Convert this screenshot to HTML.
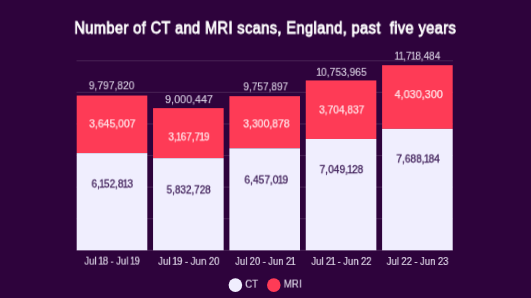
<!DOCTYPE html>
<html><head><meta charset="utf-8"><style>
html,body{margin:0;padding:0}
body{width:531px;height:298px;overflow:hidden;background:#2e033c;position:relative;font-family:"Liberation Sans",sans-serif}
.t{position:absolute;left:0;top:0;line-height:1;white-space:nowrap;transform-origin:0 0}
.t i{font-style:normal;margin:0 -0.9px}
</style></head><body>
<svg width="531" height="298" style="position:absolute;left:0;top:0"><rect x="76.5" y="249.70" width="376.5" height="1.2" fill="#ffffff" fill-opacity="0.11"/><rect x="76.5" y="218.11" width="376.5" height="1.2" fill="#ffffff" fill-opacity="0.11"/><rect x="76.5" y="186.52" width="376.5" height="1.2" fill="#ffffff" fill-opacity="0.11"/><rect x="76.5" y="154.93" width="376.5" height="1.2" fill="#ffffff" fill-opacity="0.11"/><rect x="76.5" y="123.34" width="376.5" height="1.2" fill="#ffffff" fill-opacity="0.11"/><rect x="76.5" y="91.75" width="376.5" height="1.2" fill="#ffffff" fill-opacity="0.11"/><rect x="76.5" y="60.16" width="376.5" height="1.2" fill="#ffffff" fill-opacity="0.11"/><rect x="76.70" y="95.54" width="70.60" height="57.57" fill="#fe3b56"/><rect x="76.70" y="153.12" width="70.60" height="97.18" fill="#f0eefe"/><rect x="153.05" y="108.14" width="70.60" height="50.03" fill="#fe3b56"/><rect x="153.05" y="158.17" width="70.60" height="92.13" fill="#f0eefe"/><rect x="229.40" y="96.17" width="70.60" height="52.14" fill="#fe3b56"/><rect x="229.40" y="148.31" width="70.60" height="101.99" fill="#f0eefe"/><rect x="305.75" y="80.44" width="70.60" height="58.52" fill="#fe3b56"/><rect x="305.75" y="138.96" width="70.60" height="111.34" fill="#f0eefe"/><rect x="382.10" y="65.21" width="70.60" height="63.66" fill="#fe3b56"/><rect x="382.10" y="128.87" width="70.60" height="121.43" fill="#f0eefe"/><circle cx="235.4" cy="285.1" r="6.8" fill="#f0eefe"/><circle cx="273.8" cy="285.1" r="6.8" fill="#fe3b56"/></svg>
<div class="t" style="font-size:15.8px;color:#ffffff;font-weight:normal;transform:translate3d(74.385px,20.459px,0px) scaleX(0.9215);will-change:transform;-webkit-text-stroke:0.8px #ffffff;letter-spacing:0.45px;">Number of CT and MRI scans, England, past&nbsp; five years</div>
<div class="t" style="font-size:11.0px;color:#ddd5e6;font-weight:normal;transform:translate3d(88.803px,80.261px,0px) scaleX(0.9316);will-change:transform;-webkit-text-stroke:0.1px #ddd5e6;letter-spacing:0px;">9,797,820</div>
<div class="t" style="font-size:11.0px;color:#ffe2e7;font-weight:normal;transform:translate3d(89.140px,118.348px,0px) scaleX(0.9471);will-change:transform;-webkit-text-stroke:0.25px #ffe2e7;letter-spacing:0px;">3,645,007</div>
<div class="t" style="font-size:11.0px;color:#40205a;font-weight:normal;transform:translate3d(91.523px,178.439px,0px) scaleX(0.9149);will-change:transform;-webkit-text-stroke:0.3px #40205a;letter-spacing:0px;">6,<i>1</i>52,8<i>1</i>3</div>
<div class="t" style="font-size:11.5px;color:#ddd5e6;font-weight:normal;transform:translate3d(84.344px,255.611px,0px) scaleX(0.8297);will-change:transform;-webkit-text-stroke:0.2px #ddd5e6;letter-spacing:0px;word-spacing:-0.3px;">Jul <i>1</i>8 - Jul <i>1</i>9</div>
<div class="t" style="font-size:11.0px;color:#ddd5e6;font-weight:normal;transform:translate3d(165.081px,94.143px,0px) scaleX(0.9796);will-change:transform;-webkit-text-stroke:0.1px #ddd5e6;letter-spacing:0px;">9,000,447</div>
<div class="t" style="font-size:11.0px;color:#ffe2e7;font-weight:normal;transform:translate3d(168.412px,131.415px,0px) scaleX(0.9067);will-change:transform;-webkit-text-stroke:0.25px #ffe2e7;letter-spacing:0px;">3,<i>1</i>67,7<i>1</i>9</div>
<div class="t" style="font-size:11.0px;color:#40205a;font-weight:normal;transform:translate3d(166.600px,184.432px,0px) scaleX(0.9014);will-change:transform;-webkit-text-stroke:0.3px #40205a;letter-spacing:0px;">5,832,728</div>
<div class="t" style="font-size:11.5px;color:#ddd5e6;font-weight:normal;transform:translate3d(158.090px,255.872px,0px) scaleX(0.8490);will-change:transform;-webkit-text-stroke:0.2px #ddd5e6;letter-spacing:0px;word-spacing:-0.3px;">Jul <i>1</i>9 - Jun 20</div>
<div class="t" style="font-size:11.0px;color:#ddd5e6;font-weight:normal;transform:translate3d(243.386px,81.356px,0px) scaleX(0.9148);will-change:transform;-webkit-text-stroke:0.1px #ddd5e6;letter-spacing:0px;">9,757,897</div>
<div class="t" style="font-size:11.0px;color:#ffe2e7;font-weight:normal;transform:translate3d(243.212px,118.318px,0px) scaleX(0.9483);will-change:transform;-webkit-text-stroke:0.25px #ffe2e7;letter-spacing:0px;">3,300,878</div>
<div class="t" style="font-size:11.0px;color:#40205a;font-weight:normal;transform:translate3d(244.397px,174.449px,0px) scaleX(0.9282);will-change:transform;-webkit-text-stroke:0.3px #40205a;letter-spacing:0px;">6,457,0<i>1</i>9</div>
<div class="t" style="font-size:11.5px;color:#ddd5e6;font-weight:normal;transform:translate3d(235.158px,255.914px,0px) scaleX(0.8261);will-change:transform;-webkit-text-stroke:0.2px #ddd5e6;letter-spacing:0px;word-spacing:-0.3px;">Jul 20 - Jun 2<i>1</i></div>
<div class="t" style="font-size:11.0px;color:#ddd5e6;font-weight:normal;transform:translate3d(317.029px,66.781px,0px) scaleX(0.9311);will-change:transform;-webkit-text-stroke:0.1px #ddd5e6;letter-spacing:0px;"><i>1</i>0,753,965</div>
<div class="t" style="font-size:11.0px;color:#ffe2e7;font-weight:normal;transform:translate3d(319.087px,104.421px,0px) scaleX(0.9240);will-change:transform;-webkit-text-stroke:0.25px #ffe2e7;letter-spacing:0px;">3,704,837</div>
<div class="t" style="font-size:11.0px;color:#40205a;font-weight:normal;transform:translate3d(319.553px,164.144px,0px) scaleX(0.9276);will-change:transform;-webkit-text-stroke:0.3px #40205a;letter-spacing:0px;">7,049,<i>1</i>28</div>
<div class="t" style="font-size:11.5px;color:#ddd5e6;font-weight:normal;transform:translate3d(311.343px,255.920px,0px) scaleX(0.8316);will-change:transform;-webkit-text-stroke:0.2px #ddd5e6;letter-spacing:0px;word-spacing:-0.3px;">Jul 2<i>1</i> - Jun 22</div>
<div class="t" style="font-size:11.0px;color:#ddd5e6;font-weight:normal;transform:translate3d(395.301px,50.644px,0px) scaleX(0.9011);will-change:transform;-webkit-text-stroke:0.1px #ddd5e6;letter-spacing:0px;"><i>1</i><i>1</i>,7<i>1</i>8,484</div>
<div class="t" style="font-size:11.0px;color:#ffe2e7;font-weight:normal;transform:translate3d(394.601px,89.065px,0px) scaleX(0.9871);will-change:transform;-webkit-text-stroke:0.25px #ffe2e7;letter-spacing:0px;">4,030,300</div>
<div class="t" style="font-size:11.0px;color:#40205a;font-weight:normal;transform:translate3d(396.351px,153.474px,0px) scaleX(0.9223);will-change:transform;-webkit-text-stroke:0.3px #40205a;letter-spacing:0px;">7,688,<i>1</i>84</div>
<div class="t" style="font-size:11.5px;color:#ddd5e6;font-weight:normal;transform:translate3d(386.624px,255.965px,0px) scaleX(0.8337);will-change:transform;-webkit-text-stroke:0.2px #ddd5e6;letter-spacing:0px;word-spacing:-0.3px;">Jul 22 - Jun 23</div>
<div class="t" style="font-size:11.5px;color:#ddd5e6;font-weight:normal;transform:translate3d(245.246px,278.674px,0px) scaleX(0.8348);will-change:transform;-webkit-text-stroke:0.2px #ddd5e6;letter-spacing:0px;">CT</div>
<div class="t" style="font-size:11.5px;color:#ddd5e6;font-weight:normal;transform:translate3d(283.807px,278.560px,0px) scaleX(0.8419);will-change:transform;-webkit-text-stroke:0.2px #ddd5e6;letter-spacing:0px;">MRI</div>
</body></html>
